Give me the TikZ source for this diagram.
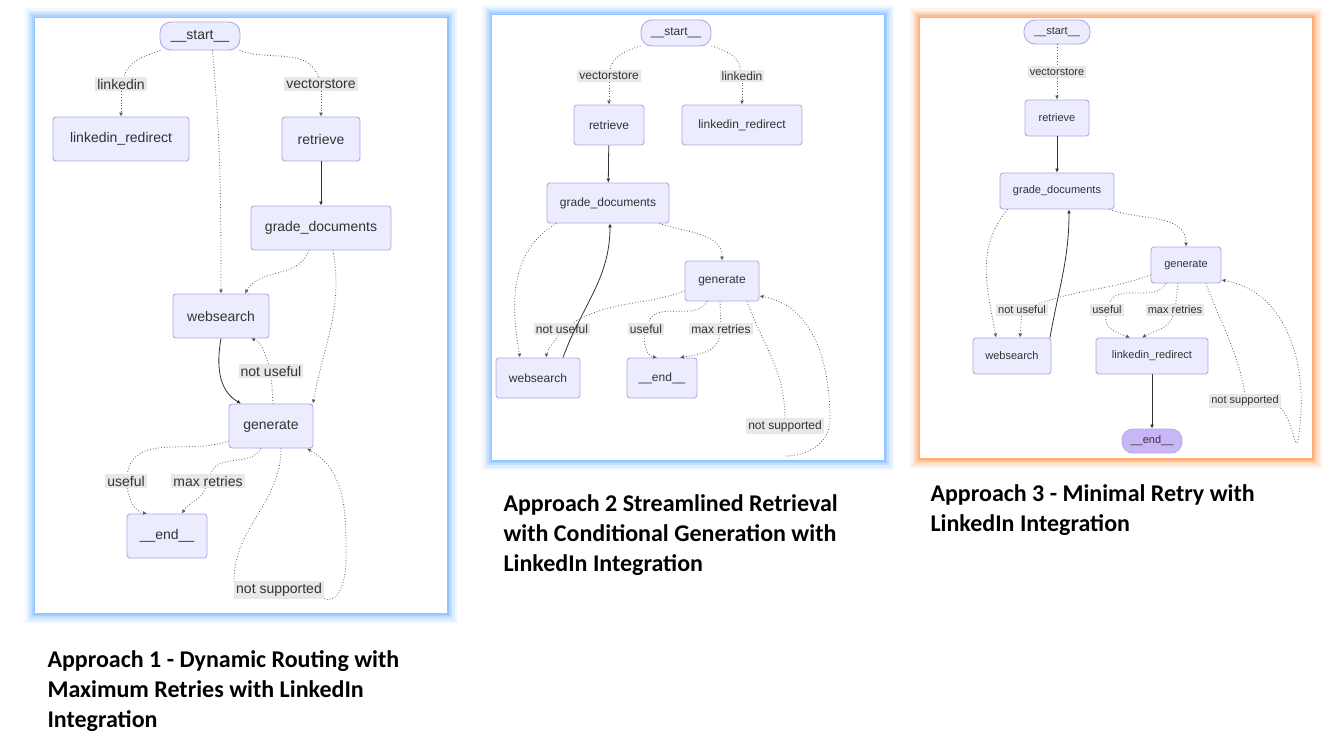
\documentclass[tikz,border=0pt]{standalone}
\usepackage{fontspec}
\setmainfont{Liberation Sans}
\newfontfamily\capfont{Carlito}
\usetikzlibrary{arrows.meta}
\definecolor{nfill}{HTML}{ECECFF}
\definecolor{nline}{HTML}{B7A5E6}
\definecolor{lfill}{HTML}{E8E8E8}
\definecolor{ecol}{HTML}{333333}
\definecolor{endfill}{HTML}{C8B6F6}
\definecolor{glowb}{HTML}{8CC2FF}
\definecolor{glowo}{HTML}{FFA868}
\begin{document}
\begin{tikzpicture}[x=1pt,y=-1pt,
 box/.style={draw=nline,fill=nfill,rounded corners=3pt,line width=0.9pt,text=ecol},
 pill/.style={box,rounded corners=11pt},
 lab/.style={fill=lfill,inner sep=2pt,text=ecol},
 dot/.style={draw=ecol!80,dotted,line width=0.8pt},
 sol/.style={draw=ecol,line width=0.8pt},
 arr/.style={-{Latex[length=4pt,width=4pt]}},
 captext/.style={font=\capfont\bfseries\fontsize{24}{30}\selectfont,align=left,anchor=north west}]
\useasboundingbox (0,0) rectangle (1322,740);
\fill[white] (0,0) rectangle (1322,740);
% glows
\foreach \w/\o in {20/0.12,15/0.2,10/0.3,6/0.45,3/0.7}{
 \draw[glowb,line width=\w pt,opacity=\o] (35,18) rectangle (447,613);
 \draw[glowb,line width=\w pt,opacity=\o] (492,15) rectangle (884,460);
 \draw[glowo,line width=\w pt,opacity=\o] (920,18) rectangle (1312,458);}
\fill[white] (35,18) rectangle (447,613);
\fill[white] (492,15) rectangle (884,460);
\fill[white] (920,18) rectangle (1312,458);
% ---------- Panel 1
\begin{scope}[font=\fontsize{14}{16}\selectfont]
\node[pill,minimum width=80,minimum height=28] (as) at (200,36) {\_\_start\_\_};
\node[lab] (al1) at (121,84) {linkedin};
\node[box,minimum width=136,minimum height=44] (alr) at (121,139) {linkedin\_redirect};
\node[lab] (al2) at (321,84) {vectorstore};
\node[box,minimum width=78,minimum height=44] (ar) at (321,139) {retrieve};
\node[box,minimum width=140,minimum height=44] (ag) at (321,228) {grade\_documents};
\node[box,minimum width=96,minimum height=44] (aw) at (221,316) {websearch};
\node[lab] (al3) at (271,371) {not useful};
\node[box,minimum width=84,minimum height=44] (agen) at (271,426) {generate};
\node[lab] (al4) at (126,481) {useful};
\node[lab] (al5) at (208,481) {max retries};
\node[box,minimum width=80,minimum height=44] (ae) at (167,536) {\_\_end\_\_};
\node[lab] (al6) at (279,590) {not supported};
\end{scope}
\draw[dot] (as) to[out=200,in=70] (al1); \draw[dot,arr] (al1) -- (alr);
\draw[dot] (as) to[out=-20,in=110] (al2); \draw[dot,arr] (al2) -- (ar);
\draw[dot,arr] (as.south east) ++(-28,0) to[out=-85,in=90] (aw.north);
\draw[sol,arr] (ar) -- (ag);
\draw[dot,arr] (ag.south) ++(-12,0) to[out=-110,in=60] ([xshift=24]aw.north);
\draw[dot,arr] (ag.south) ++(12,0) to[out=-80,in=80] ([xshift=42]agen.north);
\draw[sol,arr] (aw.south) to[out=-100,in=150] ([xshift=-30]agen.north);
\draw[dot] (agen.north) ++(2,0) -- (al3);
\draw[dot,arr] (al3) to[out=110,in=-20] ([xshift=30]aw.south);
\draw[dot] (agen.west) ++(0,15) to[out=200,in=80] (al4); \draw[dot,arr] (al4) to[out=-80,in=170] ([xshift=-20]ae.north);
\draw[dot] ([xshift=-10]agen.south) to[out=-120,in=70] (al5); \draw[dot,arr] (al5) to[out=-110,in=60] ([xshift=15]ae.north);
\draw[dot] ([xshift=10]agen.south) to[out=-90,in=90] (al6.north west);
\draw[dot,arr] (al6.south east) to[out=-20,in=-90] (346,560) to[out=90,in=-30] ([xshift=36]agen.south);
% ---------- Panel 2
\begin{scope}[font=\fontsize{12}{14}\selectfont]
\node[pill,minimum width=70,minimum height=26] (bs) at (676,33) {\_\_start\_\_};
\node[lab] (bl1) at (609,76) {vectorstore};
\node[lab] (bl2) at (742,76) {linkedin};
\node[box,minimum width=70,minimum height=40] (br) at (609,125) {retrieve};
\node[box,minimum width=120,minimum height=40] (blr) at (742,125) {linkedin\_redirect};
\node[box,minimum width=122,minimum height=40] (bg) at (608,203) {grade\_documents};
\node[box,minimum width=74,minimum height=40] (bgen) at (722,281) {generate};
\node[lab] (bl3) at (562,329) {not useful};
\node[lab] (bl4) at (646,329) {useful};
\node[lab] (bl5) at (721,329) {max retries};
\node[box,minimum width=84,minimum height=40] (bw) at (538,378) {websearch};
\node[box,minimum width=70,minimum height=40] (be) at (662,378) {\_\_end\_\_};
\node[lab] (bl6) at (785,426) {not supported};
\end{scope}
\draw[dot] (bs) to[out=200,in=80] (bl1); \draw[dot,arr] (bl1) -- (br);
\draw[dot] (bs) to[out=-20,in=100] (bl2); \draw[dot,arr] (bl2) -- (blr);
\draw[sol,arr] (br) -- (bg);
\draw[dot,arr] (bg.south east) ++(-10,0) to[out=-20,in=90] (bgen.north);
\draw[dot,arr] (bg.south west) ++(10,0) to[out=-150,in=100] ([xshift=-18]bw.north);
\draw[sol,arr] ([xshift=25]bw.north) to[out=70,in=-90] ([xshift=2]bg.south);
\draw[dot] (bgen.west) ++(0,10) to[out=200,in=30] (bl3); \draw[dot,arr] (bl3) to[out=-120,in=80] ([xshift=8]bw.north);
\draw[dot] ([xshift=-15]bgen.south) to[out=-120,in=70] (bl4); \draw[dot,arr] (bl4) to[out=-100,in=170] ([xshift=-5]be.north);
\draw[dot] ([xshift=-2]bgen.south) -- (bl5); \draw[dot,arr] (bl5) to[out=-100,in=10] ([xshift=18]be.north);
\draw[dot] ([xshift=25]bgen.south) to[out=-70,in=90] (bl6.north);
\draw[dot,arr] (786,456) to[out=0,in=-90] (830,420) to[out=90,in=-10] (bgen.east |- 0,296);
% ---------- Panel 3
\begin{scope}[font=\fontsize{11}{13}\selectfont]
\node[pill,minimum width=66,minimum height=24] (cs) at (1057,32) {\_\_start\_\_};
\node[lab] (cl1) at (1057,72) {vectorstore};
\node[box,minimum width=64,minimum height=36] (cr) at (1057,118) {retrieve};
\node[box,minimum width=114,minimum height=36] (cg) at (1057,191) {grade\_documents};
\node[box,minimum width=70,minimum height=36] (cgen) at (1186,265) {generate};
\node[lab] (cl2) at (1022,310) {not useful};
\node[lab] (cl3) at (1107,310) {useful};
\node[lab] (cl4) at (1175,310) {max retries};
\node[box,minimum width=78,minimum height=36] (cw) at (1012,356) {websearch};
\node[box,minimum width=112,minimum height=36] (clr) at (1152,356) {linkedin\_redirect};
\node[pill,fill=endfill,minimum width=60,minimum height=24] (ce) at (1152,441) {\_\_end\_\_};
\node[lab] (cl5) at (1245,401) {not supported};
\end{scope}
\draw[dot] (cs) -- (cl1); \draw[dot,arr] (cl1) -- (cr);
\draw[sol,arr] (cr) -- (cg);
\draw[dot,arr] (cg.south east) ++(-5,0) to[out=-20,in=90] (cgen.north);
\draw[dot,arr] (cg.south west) ++(8,0) to[out=-130,in=100] ([xshift=-16]cw.north);
\draw[sol,arr] ([xshift=38]cw.north) to[out=80,in=-90] ([xshift=12]cg.south);
\draw[dot] (cgen.west) ++(0,10) to[out=200,in=20] (cl2); \draw[dot,arr] (cl2) -- ([xshift=8]cw.north);
\draw[dot] ([xshift=-20]cgen.south) to[out=-120,in=70] (cl3); \draw[dot,arr] (cl3) to[out=-100,in=160] ([xshift=-22]clr.north);
\draw[dot] ([xshift=-8]cgen.south) -- (cl4); \draw[dot,arr] (cl4) to[out=-110,in=30] ([xshift=-10]clr.north);
\draw[dot] ([xshift=20]cgen.south) to[out=-70,in=100] (cl5.north);
\draw[dot,arr] (cl5.south east) to[out=-40,in=-100] (1298,440) to[out=80,in=-10] (cgen.east |- 0,280);
\draw[sol,arr] (clr) -- (ce);
% captions
\node[captext] at (44,647) {Approach 1 - Dynamic Routing with\\Maximum Retries with LinkedIn\\Integration};
\node[captext] at (500,491) {Approach 2 Streamlined Retrieval\\with Conditional Generation with\\LinkedIn Integration};
\node[captext] at (927,481) {Approach 3 - Minimal Retry with\\LinkedIn Integration};
\end{tikzpicture}
\end{document}
